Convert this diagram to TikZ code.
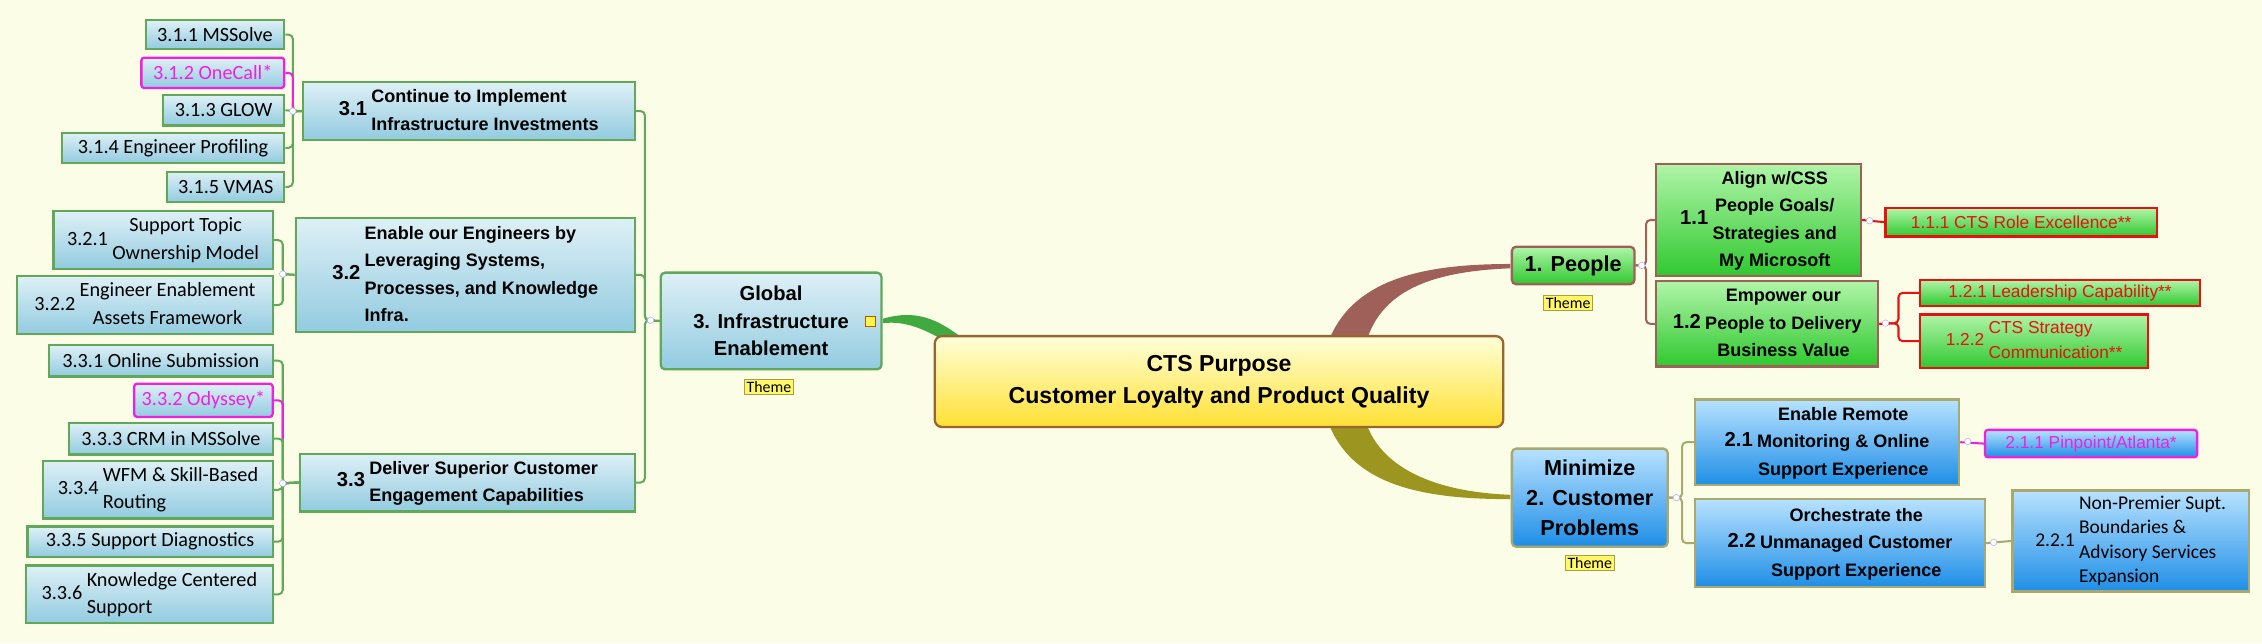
\documentclass[tikz,border=0pt]{standalone}
\usepackage{fontspec}
\setmainfont{Liberation Sans}
\newfontfamily\carl{Carlito}
\usetikzlibrary{calc}
\definecolor{bg}{HTML}{FCFDE6}
\definecolor{bordG}{HTML}{62A85A}
\definecolor{bordB}{HTML}{A0605A}
\definecolor{bordO}{HTML}{A8A870}
\definecolor{mag}{HTML}{F020E0}
\definecolor{redc}{HTML}{E81010}
\definecolor{lbt}{HTML}{DEF0F6}
\definecolor{lbb}{HTML}{92CBE0}
\definecolor{gbt}{HTML}{B0F5A8}
\definecolor{gbb}{HTML}{30C830}
\definecolor{bbt}{HTML}{B8E2FF}
\definecolor{bbb}{HTML}{1E8EE6}
\newcommand\nt[2]{\begin{tabular}{@{}l@{\hspace{3pt}}c@{}}#1&\begin{tabular}{@{}c@{}}#2\end{tabular}\end{tabular}}
\newcommand\ntl[2]{\begin{tabular}{@{}l@{\hspace{3pt}}l@{}}#1&\begin{tabular}{@{}l@{}}#2\end{tabular}\end{tabular}}
\newcommand\mkbox[7]{\node[#1, minimum width={#5-#3-2}, minimum height={#6-#4-2}] (#2) at ({(#3+#5)/2},{(#4+#6)/2}) {#7};}
\newcommand\numf{\fontsize{14}{18}\selectfont}
\tikzset{
 base/.style={draw, line width=1.6pt, inner sep=1pt, align=center},
 lb/.style={base, draw=bordG, top color=lbt, bottom color=lbb, font=\carl\fontsize{14}{19}\selectfont},
 lbm/.style={lb, draw=mag, text=mag, rounded corners=2pt},
 hb/.style={lb, font=\bfseries\fontsize{12.5}{19}\selectfont},
 gb/.style={base, draw=bordB, top color=gbt, bottom color=gbb, font=\bfseries\fontsize{12.5}{19}\selectfont},
 rb/.style={base, draw=redc, text=redc, top color=gbt, bottom color=gbb, font=\fontsize{12}{19}\selectfont},
 bb/.style={base, draw=bordO, top color=bbt, bottom color=bbb, font=\bfseries\fontsize{12.5}{19}\selectfont},
 bbm/.style={bb, draw=mag, text=mag, font=\fontsize{12}{19}\selectfont, rounded corners=2pt},
 bbl/.style={bb, font=\carl\fontsize{13.5}{17}\selectfont},
 theme/.style={draw=yellow!60!black, fill=yellow!60, inner sep=1.5pt, font=\carl\fontsize{11}{12}\selectfont},
 gc/.style={draw=bordG, line width=1.4pt, rounded corners=3pt},
 mc/.style={draw=mag, line width=1.4pt, rounded corners=3pt},
 rc/.style={draw=bordB, line width=1.4pt, rounded corners=3pt},
 rrc/.style={draw=redc, line width=1.4pt, rounded corners=3pt},
 oc/.style={draw=bordO, line width=1.4pt, rounded corners=3pt},
 knob/.style={circle, draw=blue!30, fill=white, inner sep=0pt, minimum size=4.5pt},
}
\begin{document}
\begin{tikzpicture}[x=1pt,y=-1pt]
\fill[bg] (0,0) rectangle (1568,446);
\useasboundingbox (0,0) rectangle (1568,446);
% curves from center
\fill[green!55!black!75!white] (612,221) .. controls (635,214) and (650,222) .. (664,232) -- (664,242) .. controls (645,230) and (630,222) .. (612,224) -- cycle;
\fill[bordB] (922,234) .. controls (940,192) and (990,183) .. (1047,183) -- (1047,186) .. controls (995,188) and (960,200) .. (948,234) -- cycle;
\fill[olive!60!yellow!80!black] (922,296) .. controls (940,338) and (990,346) .. (1047,346) -- (1047,343) .. controls (995,341) and (960,325) .. (948,296) -- cycle;
% left subtree
\mkbox{lb}{a311}{100}{13}{198}{35}{3.1.1 MSSolve}
\mkbox{lbm}{a312}{97}{39}{198}{62}{3.1.2 OneCall*}
\mkbox{lb}{a313}{112}{65}{198}{88}{3.1.3 GLOW}
\mkbox{lb}{a314}{42}{91}{198}{114}{3.1.4 Engineer Profiling}
\mkbox{lb}{a315}{115}{118}{198}{141}{3.1.5 VMAS}
\mkbox{lb}{a321}{36}{146}{190}{187}{\nt{3.2.1}{Support Topic\\Ownership Model}}
\mkbox{lb}{a322}{11}{191}{190}{232}{\nt{3.2.2}{Engineer Enablement\\Assets Framework}}
\mkbox{lb}{a331}{33}{238}{190}{262}{3.3.1 Online Submission}
\mkbox{lbm}{a332}{92}{265}{190}{290}{3.3.2 Odyssey*}
\mkbox{lb}{a333}{47}{292}{190}{316}{3.3.3 CRM in MSSolve}
\mkbox{lb}{a334}{29}{319}{190}{360}{\ntl{3.3.4}{WFM \& Skill-Based\\Routing}}
\mkbox{lb}{a335}{18}{364}{190}{387}{3.3.5 Support Diagnostics}
\mkbox{lb}{a336}{17}{391}{190}{433}{\ntl{3.3.6}{Knowledge Centered\\Support}}
\mkbox{hb}{a31}{209}{57}{441}{97}{\ntl{\numf 3.1}{Continue to Implement\\Infrastructure Investments}}
\mkbox{hb}{a32}{204}{150}{441}{231}{\ntl{\numf 3.2}{Enable our Engineers by\\Leveraging Systems,\\Processes, and Knowledge\\Infra.}}
\mkbox{hb}{a33}{207}{314}{441}{355}{\ntl{\numf 3.3}{Deliver Superior Customer\\Engagement Capabilities}}
\mkbox{hb,rounded corners=3pt,font=\bfseries\fontsize{14}{19}\selectfont}{g3}{457}{188}{612}{257}{Global\\3. Infrastructure\\Enablement}
\node[draw=orange!70!black, fill=yellow!70, minimum size=7pt, inner sep=0pt] (note) at (603,223) {};
\node[theme] (t3) at (533,268) {Theme};
% center
\mkbox{base,draw=brown!80!black,rounded corners=5pt,top color=yellow!15!white,bottom color=yellow!70!orange!80!white,font=\bfseries\fontsize{16}{22}\selectfont}{cts}{647}{232}{1043}{297}{CTS Purpose\\Customer Loyalty and Product Quality}
% right
\mkbox{gb,rounded corners=3pt,font=\bfseries\fontsize{15}{18}\selectfont}{p1}{1047}{170}{1134}{198}{1. People}
\node[theme] (t1) at (1087,210) {Theme};
\mkbox{gb}{p11}{1147}{115}{1291}{190}{\nt{\numf 1.1}{Align w/CSS\\People Goals/\\Strategies and\\My Microsoft}}
\mkbox{gb}{p12}{1147}{194}{1303}{255}{\nt{\numf 1.2}{Empower our\\People to Delivery\\Business Value}}
\mkbox{rb}{p111}{1306}{143}{1496}{165}{1.1.1 CTS Role Excellence**}
\mkbox{rb}{p121}{1330}{193}{1526}{213}{1.2.1 Leadership Capability**}
\mkbox{rb,font=\fontsize{12}{17}\selectfont}{p122}{1330}{217}{1490}{256}{\ntl{1.2.2}{CTS Strategy\\Communication**}}
\mkbox{bb,rounded corners=3pt,font=\bfseries\fontsize{15}{21}\selectfont}{p2}{1047}{310}{1157}{380}{Minimize\\2. Customer\\Problems}
\node[theme] (t2) at (1102,390) {Theme};
\mkbox{bb}{p21}{1174}{278}{1359}{335}{\nt{\numf 2.1}{Enable Remote\\Monitoring \& Online\\Support Experience}}
\mkbox{bb}{p22}{1174}{345}{1377}{408}{\nt{\numf 2.2}{Orchestrate the\\Unmanaged Customer\\Support Experience}}
\mkbox{bbm}{p211}{1375}{297}{1524}{318}{2.1.1 Pinpoint/Atlanta*}
\mkbox{bbl}{p221}{1394}{340}{1560}{410}{\ntl{2.2.1}{Non-Premier Supt.\\Boundaries \&\\Advisory Services\\Expansion}}
% junctions
\coordinate (j31) at (203,77);
\coordinate (j32) at (196,190);
\coordinate (j33) at (196,335);
\coordinate (jg) at (447,222);
\coordinate (jp1) at (1141,184);
\coordinate (jp12) at (1316,224);
\coordinate (jp2) at (1166,345);
% connectors
\foreach \c in {a311,a313,a314,a315} \draw[gc] (\c.east) -| (j31) -- (a31.west);
\draw[mc] (a312.east) -| (j31);
\foreach \c in {a321,a322} \draw[gc] (\c.east) -| (j32) -- (a32.west);
\foreach \c in {a331,a333,a334,a335,a336} \draw[gc] (\c.east) -| (j33) -- (a33.west);
\draw[mc] (a332.east) -| ($(j33)+(0,-31)$);
\foreach \c in {a31,a32,a33} \draw[gc] (\c.east) -| (jg) -- (g3.west);
\foreach \c in {p11,p12} \draw[rc] (p1.east) -- (jp1) |- (\c.west);
\draw[rrc] (p11.east) -- (p111.west);
\foreach \c in {p121,p122} \draw[rrc] (p12.east) -- (jp12) |- (\c.west);
\foreach \c in {p21,p22} \draw[oc] (p2.east) -- (jp2) |- (\c.west);
\draw[mc] (p21.east) -- (p211.west);
\draw[oc] (p22.east) -- (p221.west);
% knobs
\node[knob] at (203,77) {}; \node[knob] at (196,190) {}; \node[knob] at (196,335) {};
\node[knob] at (451,222) {}; \node[knob] at (1138,184) {}; \node[knob] at (1296,153) {};
\node[knob] at (1307,224) {}; \node[knob] at (1162,345) {}; \node[knob] at (1364,306) {};
\node[knob] at (1382,376) {};
\end{tikzpicture}
\end{document}
